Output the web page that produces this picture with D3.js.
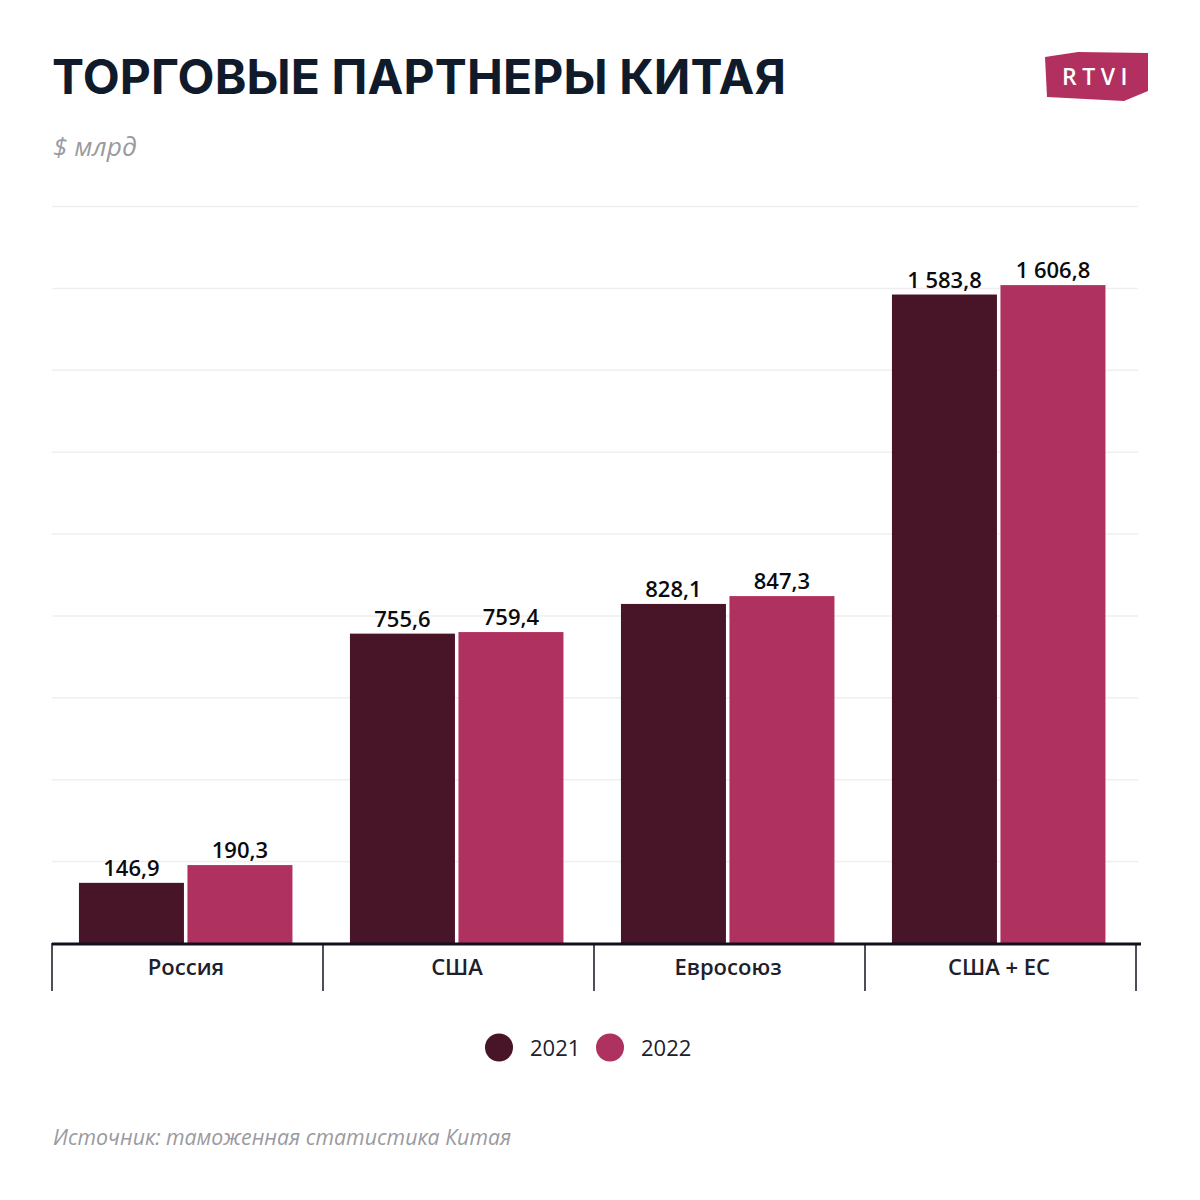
<!DOCTYPE html>
<html>
<head>
<meta charset="utf-8">
<script src="https://cdn.jsdelivr.net/npm/d3@7"></script>
<style>
html,body{margin:0;padding:0;background:#fff;}
text{font-family:"Open Sans",sans-serif;}
</style>
</head>
<body>
<svg id="chart" width="1200" height="1200"></svg>
<script>
// data
const categories = ['Россия','США','Евросоюз','США + ЕС'];
const years = ['2021','2022'];
const values2021 = [146.9,755.6,828.1,1583.8];
const values2022 = [190.3,759.4,847.3,1606.8];
const valueTicks = [0,200,400,600,800,1000,1200,1400,1600,1800];
const colours = ['#481428','#AF315F'];

const svg = d3.select('#chart');
svg.append('rect').attr('width',1200).attr('height',1200).attr('fill','#fff');

const margin = {left:52,right:64,top:206,bottom:257};
const plotRight = 1200-margin.right;
const plotBottom = 1200-margin.bottom;

const y = d3.scaleLinear().domain([0,1800]).range([plotBottom,margin.top]);
const x0 = d3.scaleBand().domain(categories).range([margin.left,plotRight]);
const barW = 105, barGap = 3.5;
const x1 = d3.scaleBand().domain(years).range([0,2*barW+barGap]).paddingInner(barGap/(barW+barGap));
const groupShift = (x0.bandwidth()-(2*barW+barGap))/2-1.8;

// title block
svg.append('text').attr('x',52).attr('y',94)
    .attr('font-size',48).attr('font-weight',700).attr('fill','#0F1A2B')
    .style('font-family','Inter').attr('textLength',734).attr('lengthAdjust','spacing')
    .text('ТОРГОВЫЕ ПАРТНЕРЫ КИТАЯ');
svg.append('text').attr('x',53).attr('y',156)
    .attr('font-size',26.3).attr('font-style','italic').attr('fill','#9A9AA0')
    .text('$ млрд');

// logo
const logo = svg.append('g');
logo.append('path').attr('d','M1045,57 L1078,52 L1148,53 L1148,91 L1124,101 L1047,97 Z').attr('fill','#B2305F');
logo.append('text').attr('x',1062).attr('y',85)
    .attr('font-size',23).attr('font-weight',600).attr('letter-spacing',5.5).attr('fill','#fff')
    .text('RTVI');

// gridlines
svg.append('g').attr('transform','translate('+margin.left+',0)')
    .call(d3.axisRight(y).tickValues(valueTicks.slice(1)).tickSize(1086).tickFormat(''))
    .call(g=>g.select('.domain').remove())
    .call(g=>g.selectAll('.tick line').attr('stroke','#EFEFEF').attr('stroke-width',1.5));

// bars
const group = svg.selectAll('.group').data(categories).enter().append('g')
    .attr('class','group')
    .attr('transform',d=>'translate('+(x0(d)+groupShift)+',0)');

[values2021,values2022].forEach(function(series,s){
    group.append('rect')
        .attr('x',x1(years[s]))
        .attr('width',x1.bandwidth())
        .attr('y',(d,i)=>y(series[i]))
        .attr('height',(d,i)=>y(0)-y(series[i]))
        .attr('fill',colours[s]);
    group.append('text')
        .attr('x',x1(years[s])+x1.bandwidth()/2)
        .attr('y',(d,i)=>y(series[i])-7)
        .attr('text-anchor','middle')
        .attr('font-size',22).attr('font-weight',600).attr('fill','#0b0b0f')
        .text((d,i)=>d3.format(',.1f')(series[i]).replace(',',' ').replace('.',','));
});

// category axis
const xAxis = svg.append('g').attr('transform','translate(0,'+plotBottom+')');
xAxis.selectAll('.sep').data(categories.concat(['end'])).enter().append('line')
    .attr('class','sep')
    .attr('x1',(d,i)=>margin.left+i*x0.step()).attr('x2',(d,i)=>margin.left+i*x0.step())
    .attr('y1',0).attr('y2',48)
    .attr('stroke','#15151f').attr('stroke-width',1.5);
xAxis.append('line').attr('x1',margin.left).attr('x2',1141).attr('y1',1).attr('y2',1)
    .attr('stroke','#0F1020').attr('stroke-width',3);
xAxis.selectAll('.lab').data(categories).enter().append('text')
    .attr('class','lab')
    .attr('x',d=>x0(d)+x0.bandwidth()/2-1.5).attr('y',32)
    .attr('text-anchor','middle')
    .attr('font-size',22).attr('font-weight',600).attr('fill','#20202a')
    .text(d=>d);

// legend
const legX = d3.scalePoint().domain(years).range([499,610]);
const leg = svg.selectAll('.leg').data(years).enter().append('g')
    .attr('class','leg').attr('transform',d=>'translate('+legX(d)+',1047.5)');
leg.append('circle').attr('r',14).attr('fill',(d,i)=>colours[i]);
leg.append('text').attr('x',31).attr('y',8).attr('font-size',22).attr('font-weight',500)
    .attr('fill','#20202a').text(d=>d);

// source
svg.append('text').attr('x',53).attr('y',1145)
    .attr('font-size',21.3).attr('font-style','italic').attr('fill','#9A9AA0')
    .text('Источник: таможенная статистика Китая');
</script>
</body>
</html>
